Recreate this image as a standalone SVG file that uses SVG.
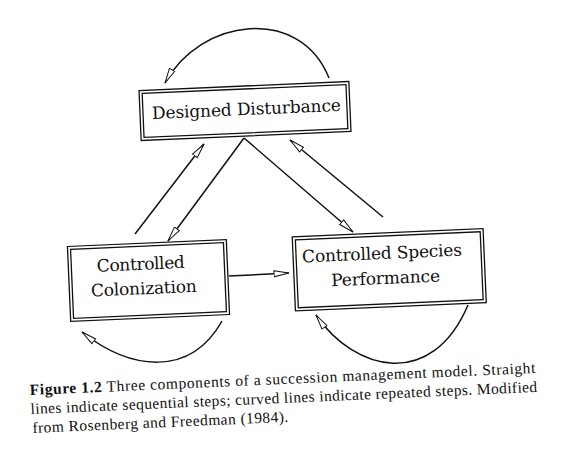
<svg xmlns="http://www.w3.org/2000/svg" width="585" height="462" viewBox="0 0 585 462">
<style>
.bx{fill:none;stroke:#111;stroke-width:1.3}
.lbl{font-family:"DejaVu Serif","Liberation Serif",serif;font-size:17px;fill:#111;text-anchor:middle}
.cn{fill:none;stroke:#111;stroke-width:1.5;marker-end:url(#ah)}
.cap{font-family:"Liberation Serif",serif;font-size:15.5px;fill:#111}
</style>
<defs>
<marker id="ah" viewBox="0 0 16 8" refX="15.5" refY="4" markerWidth="16" markerHeight="8" markerUnits="userSpaceOnUse" orient="auto">
<path d="M0.5,1 L15.5,4 L0.5,7 Z" fill="#fff" stroke="#111" stroke-width="1"/>
</marker>
</defs>
<rect width="585" height="462" fill="#fff"/>
<g id="connectors">
<line class="cn" x1="135" y1="234" x2="204" y2="144"/>
<line class="cn" x1="244" y1="138" x2="168" y2="241"/>
<line class="cn" x1="244" y1="138" x2="353" y2="232"/>
<line class="cn" x1="383" y1="217" x2="290" y2="140"/>
<line class="cn" x1="229" y1="276" x2="289" y2="273"/>
<path class="cn" d="M329,78 C300,5 200,18 165,83"/>
<path class="cn" d="M222,321 C190,378 130,370 82,332"/>
<path class="cn" d="M468,305 C432,390 355,372 316,315"/>
</g>
<g id="designed-disturbance" transform="translate(245,111) rotate(-2.45)">
<rect class="bx" x="-105" y="-25" width="210" height="50"/>
<rect class="bx" x="-102" y="-22" width="204" height="44"/>
<text class="lbl" x="1.5" y="4" textLength="189">Designed Disturbance</text>
</g>
<g id="controlled-colonization" transform="translate(148.5,280.5) rotate(-2.5)">
<rect class="bx" x="-79.5" y="-37.5" width="159" height="75"/>
<rect class="bx" x="-76.5" y="-34.5" width="153" height="69"/>
<text class="lbl" x="-7" y="-11" textLength="88">Controlled</text>
<text class="lbl" x="-5" y="13.5" textLength="106">Colonization</text>
</g>
<g id="controlled-species-performance" transform="translate(389.25,269.75) rotate(-2.5)">
<rect class="bx" x="-95.5" y="-37" width="191" height="74"/>
<rect class="bx" x="-92.5" y="-34" width="185" height="68"/>
<text class="lbl" x="-6.5" y="-11" textLength="160">Controlled Species</text>
<text class="lbl" x="-4" y="14" textLength="109">Performance</text>
</g>
<g id="caption" transform="translate(30,395) rotate(-2.5)">
<text class="cap" x="0" y="0" textLength="506"><tspan font-weight="bold">Figure 1.2</tspan>  Three components of a succession management model. Straight</text>
<text class="cap" x="0" y="19" textLength="507">lines indicate sequential steps; curved lines indicate repeated steps. Modified</text>
<text class="cap" x="1" y="38" textLength="256">from Rosenberg and Freedman (1984).</text>
</g>
</svg>
